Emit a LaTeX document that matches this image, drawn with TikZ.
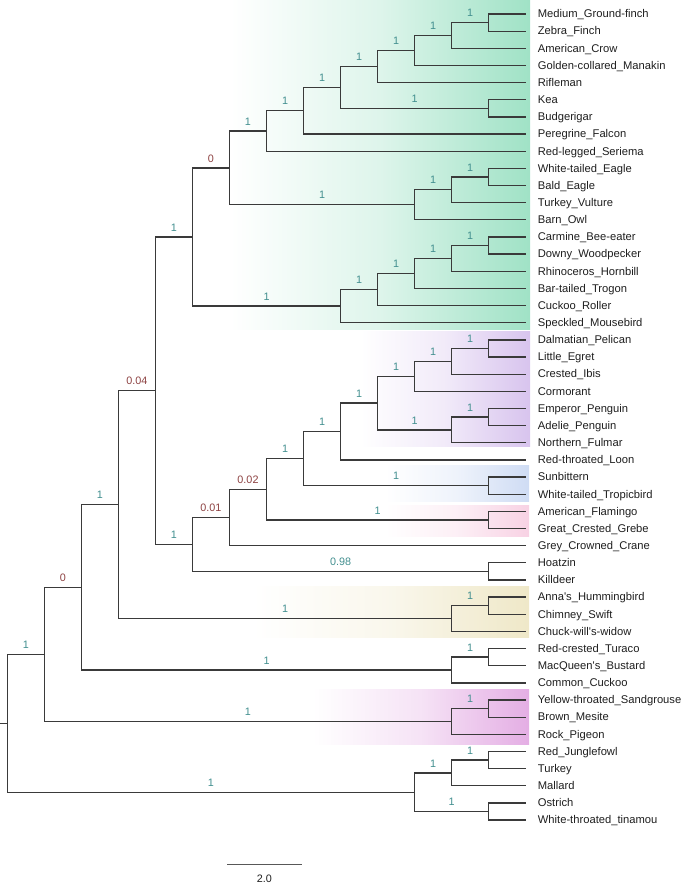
\documentclass[tikz,border=0pt]{standalone}
\usepackage{fontspec}
\setmainfont{Liberation Sans}
\definecolor{branch}{HTML}{3A3A3A}
\definecolor{leafc}{HTML}{1E1E1E}
\definecolor{tealc}{HTML}{428F8F}
\definecolor{brownc}{HTML}{8C4040}
\definecolor{cgreen}{HTML}{A0E2C6}
\definecolor{cpurple}{HTML}{D8C4EE}
\definecolor{cblue}{HTML}{CFDCF4}
\definecolor{cpink}{HTML}{F8D2E4}
\definecolor{cyellow}{HTML}{EFE8C8}
\definecolor{cmag}{HTML}{E4AEE4}
\colorlet{mgreen}{cgreen!35!white}
\colorlet{mpurple}{cpurple!35!white}
\colorlet{mblue}{cblue!35!white}
\colorlet{mpink}{cpink!35!white}
\colorlet{myellow}{cyellow!35!white}
\colorlet{mmag}{cmag!35!white}
\pgfdeclarehorizontalshading{gsh}{100bp}{color(0bp)=(white); color(25bp)=(white); color(50bp)=(mgreen); color(75bp)=(cgreen); color(100bp)=(cgreen)}
\pgfdeclarehorizontalshading{psh}{100bp}{color(0bp)=(white); color(25bp)=(white); color(50bp)=(mpurple); color(75bp)=(cpurple); color(100bp)=(cpurple)}
\pgfdeclarehorizontalshading{bsh}{100bp}{color(0bp)=(white); color(25bp)=(white); color(50bp)=(mblue); color(75bp)=(cblue); color(100bp)=(cblue)}
\pgfdeclarehorizontalshading{ksh}{100bp}{color(0bp)=(white); color(25bp)=(white); color(50bp)=(mpink); color(75bp)=(cpink); color(100bp)=(cpink)}
\pgfdeclarehorizontalshading{ysh}{100bp}{color(0bp)=(white); color(25bp)=(white); color(50bp)=(myellow); color(75bp)=(cyellow); color(100bp)=(cyellow)}
\pgfdeclarehorizontalshading{msh}{100bp}{color(0bp)=(white); color(25bp)=(white); color(50bp)=(mmag); color(75bp)=(cmag); color(100bp)=(cmag)}
\begin{document}
\begin{tikzpicture}[x=37.03pt,y=-17.15pt,
  br/.style={draw=branch, line width=1.3pt},
  leaf/.style={anchor=base west, inner sep=0pt, yshift=-3.8pt, font=\fontsize{11.2}{13}\selectfont, text=leafc},
  sup/.style={anchor=base, inner sep=0pt, yshift=5.8pt, font=\fontsize{10.8}{12}\selectfont, text=tealc},
  supb/.style={sup, text=brownc}]
\useasboundingbox (0pt,0pt) rectangle (685pt,-886pt);
% clade shading
\begin{scope}[x=1pt,y=-1pt]
\shade[shading=gsh] (230,0) rectangle (530,329);
\shade[shading=psh] (360,331.7) rectangle (530,446);
\shade[shading=bsh] (385,465.7) rectangle (529,501.7);
\shade[shading=ksh] (385,505.7) rectangle (529,536.7);
\shade[shading=ysh] (253,586.7) rectangle (529,637.3);
\shade[shading=msh] (313,689.3) rectangle (529,744);
\end{scope}
\begin{scope}[shift={(7.3pt,-14pt)}]
% leaves
\foreach \i/\t in {0/Medium\_Ground-finch,1/Zebra\_Finch,2/American\_Crow,3/Golden-collared\_Manakin,4/Rifleman,5/Kea,6/Budgerigar,7/Peregrine\_Falcon,8/Red-legged\_Seriema,9/White-tailed\_Eagle,10/Bald\_Eagle,11/Turkey\_Vulture,12/Barn\_Owl,13/Carmine\_Bee-eater,14/Downy\_Woodpecker,15/Rhinoceros\_Hornbill,16/Bar-tailed\_Trogon,17/Cuckoo\_Roller,18/Speckled\_Mousebird,19/Dalmatian\_Pelican,20/Little\_Egret,21/Crested\_Ibis,22/Cormorant,23/Emperor\_Penguin,24/Adelie\_Penguin,25/Northern\_Fulmar,26/Red-throated\_Loon,27/Sunbittern,28/White-tailed\_Tropicbird,29/American\_Flamingo,30/Great\_Crested\_Grebe,31/Grey\_Crowned\_Crane,32/Hoatzin,33/Killdeer,34/Anna\textquotesingle s\_Hummingbird,35/Chimney\_Swift,36/Chuck-will\textquotesingle s-widow,37/Red-crested\_Turaco,38/MacQueen\textquotesingle s\_Bustard,39/Common\_Cuckoo,40/Yellow-throated\_Sandgrouse,41/Brown\_Mesite,42/Rock\_Pigeon,43/Red\_Junglefowl,44/Turkey,45/Mallard,46/Ostrich,47/White-throated\_tinamou}{
  \coordinate (l\i) at (14,\i);
  \node[leaf] (n\i) at (14.323,\i) {\t};
}
% internal nodes
\coordinate (root) at (0,41.357178);
\coordinate (rt) at (-0.197,41.357178);
\coordinate (A) at (1,37.339355);
\coordinate (B) at (2,33.428711);
\coordinate (C) at (3,28.607422);
\coordinate (D) at (4,21.964844);
\coordinate (E) at (5,13.001953);
\coordinate (F) at (5,30.927734);
\coordinate (O) at (6,8.972656);
\coordinate (U) at (7,6.820313);
\coordinate (X) at (8,5.640625);
\coordinate (Y) at (9,4.28125);
\coordinate (Z) at (10,3.0625);
\coordinate (AA) at (11,2.125);
\coordinate (BB) at (12,1.25);
\coordinate (CC) at (13,0.5);
\coordinate (KB) at (13,5.5);
\coordinate (V) at (11,11.125);
\coordinate (W) at (12,10.25);
\coordinate (WB) at (13,9.5);
\coordinate (P) at (9,17.03125);
\coordinate (Q) at (10,16.0625);
\coordinate (R) at (11,15.125);
\coordinate (S) at (12,14.25);
\coordinate (CD) at (13,13.5);
\coordinate (G) at (6,29.355469);
\coordinate (H) at (7,27.710938);
\coordinate (I) at (8,25.921875);
\coordinate (J) at (9,24.34375);
\coordinate (K) at (10,22.6875);
\coordinate (iL) at (11,21.125);
\coordinate (N) at (12,20.25);
\coordinate (PE) at (13,19.5);
\coordinate (M) at (12,24.25);
\coordinate (EA) at (13,23.5);
\coordinate (ST) at (13,27.5);
\coordinate (FG) at (13,29.5);
\coordinate (HK) at (13,32.5);
\coordinate (Str) at (12,35.25);
\coordinate (AC) at (13,34.5);
\coordinate (Oti) at (12,38.25);
\coordinate (TB) at (13,37.5);
\coordinate (Col) at (12,41.25);
\coordinate (SM) at (13,40.5);
\coordinate (GP) at (11,45.375);
\coordinate (Gal) at (12,44.25);
\coordinate (RJT) at (13,43.5);
\coordinate (Pal) at (13,46.5);
% branches
\draw[br] (rt) -- (root);
\foreach \p/\c in {root/A,root/GP,A/B,A/Col,B/C,B/Oti,C/D,C/Str,D/E,D/F,E/O,E/P,O/U,O/V,U/X,U/l8,X/Y,X/l7,Y/Z,Y/KB,Z/AA,Z/l4,AA/BB,AA/l3,BB/CC,BB/l2,CC/l0,CC/l1,KB/l5,KB/l6,V/W,V/l12,W/WB,W/l11,WB/l9,WB/l10,P/Q,P/l18,Q/R,Q/l17,R/S,R/l16,S/CD,S/l15,CD/l13,CD/l14,F/G,F/HK,G/H,G/l31,H/I,H/FG,I/J,I/ST,J/K,J/l26,K/iL,K/M,iL/N,iL/l22,N/PE,N/l21,PE/l19,PE/l20,M/EA,M/l25,EA/l23,EA/l24,ST/l27,ST/l28,FG/l29,FG/l30,HK/l32,HK/l33,Str/AC,Str/l36,AC/l34,AC/l35,Oti/TB,Oti/l39,TB/l37,TB/l38,Col/SM,Col/l42,SM/l40,SM/l41,GP/Gal,GP/Pal,Gal/RJT,Gal/l45,RJT/l43,RJT/l44,Pal/l46,Pal/l47}{
  \draw[br] (\p) |- (\c);
}
% support values
\foreach \x/\y/\nm in {12.5/0.5/CC,11.5/1.25/BB,10.5/2.125/AA,9.5/3.0625/Z,11/5.5/KB,8.5/4.28125/Y,7.5/5.640625/X,6.5/6.820313/U,12.5/9.5/WB,11.5/10.25/W,8.5/11.125/V,12.5/13.5/CD,11.5/14.25/S,10.5/15.125/R,9.5/16.0625/Q,7/17.03125/P,4.5/13.001953/E,12.5/19.5/PE,11.5/20.25/N,10.5/21.125/iL,12.5/23.5/EA,11/24.25/M,9.5/22.6875/K,8.5/24.34375/J,10.5/27.5/ST,7.5/25.921875/I,10/29.5/FG,4.5/30.927734/F,12.5/34.5/AC,7.5/35.25/Str,2.5/28.607422/C,12.5/37.5/TB,7/38.25/Oti,12.5/40.5/SM,6.5/41.25/Col,0.5/37.339355/A,12.5/43.5/RJT,11.5/44.25/Gal,12/46.5/Pal,5.5/45.375/GP}{
  \node[sup] (s\nm) at (\x,\y) {1};
}
\node[sup] (sHK) at (9,32.5) {0.98};
\node[supb] (sO) at (5.5,8.972656) {0};
\node[supb] (sH) at (6.5,27.710938) {0.02};
\node[supb] (sG) at (5.5,29.355469) {0.01};
\node[supb] (sD) at (3.5,21.964844) {0.04};
\node[supb] (sB) at (1.5,33.428711) {0};
% scale bar
\coordinate (sbA) at (5.933,49.604);
\coordinate (sbB) at (7.950,49.604);
\draw[draw=branch!85!white, line width=1.3pt] (sbA) -- (sbB);
\node[anchor=base, inner sep=0pt, font=\fontsize{10.8}{12}\selectfont, text=leafc] (sbl) at (6.94,50.624) {2.0};
\end{scope}
\end{tikzpicture}
\end{document}
